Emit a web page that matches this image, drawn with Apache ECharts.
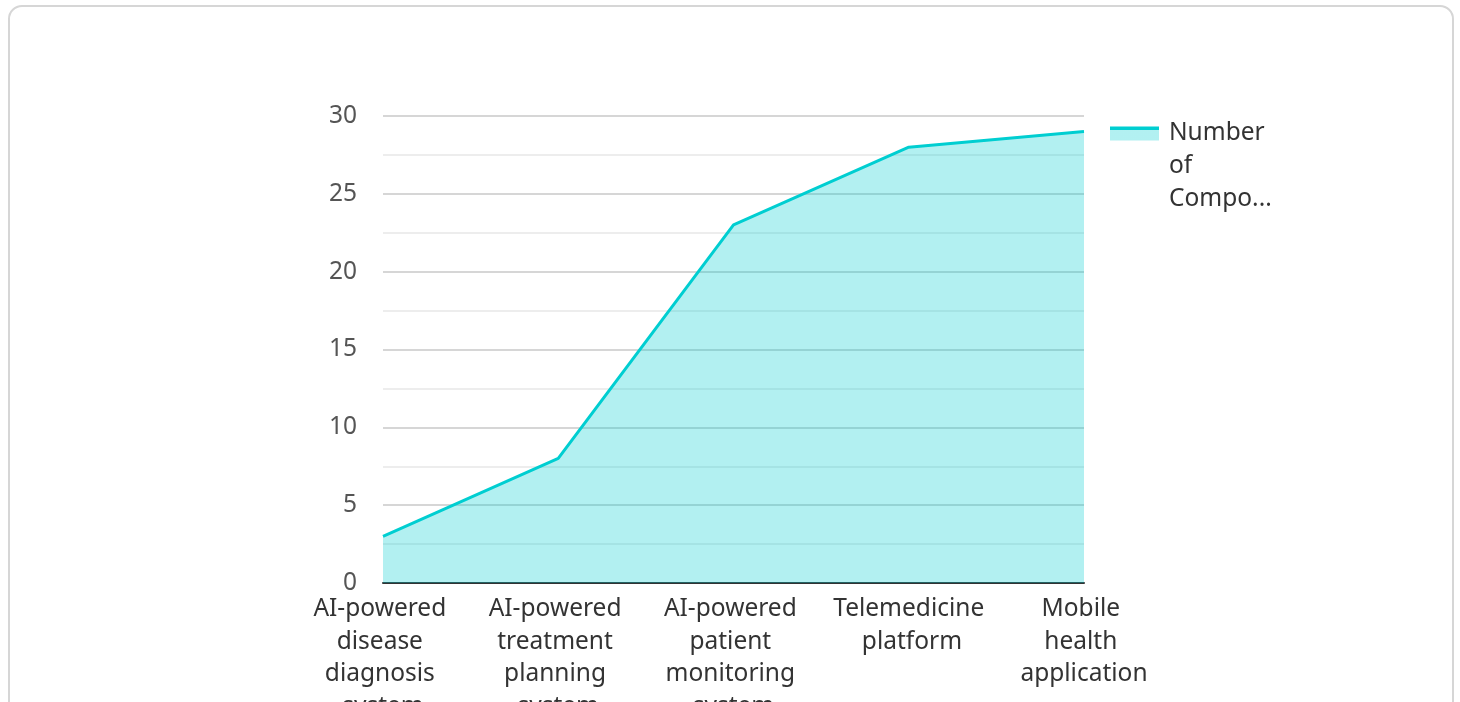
<!DOCTYPE html>
<html>
<head>
<meta charset="utf-8">
<script src="https://cdn.jsdelivr.net/npm/echarts@6/dist/echarts.min.js"></script>
<style>
  html, body { margin: 0; padding: 0; background: #fff; overflow: hidden; }
  #card {
    position: absolute; left: 8px; top: 5px; width: 1446px; height: 760px;
    border: 2px solid #d6d6d6; border-radius: 14px; box-sizing: border-box;
  }
  #main { position: absolute; left: 0; top: 0; width: 1460px; height: 702px; }
</style>
</head>
<body>
<div id="card"></div>
<div id="main"></div>
<script>
// data
var categories = [
  'AI-powered disease diagnosis system',
  'AI-powered treatment planning system',
  'AI-powered patient monitoring system',
  'Telemedicine platform',
  'Mobile health application'
];
var seriesName = 'Number of Components';
var values = [3, 8, 23, 28, 29];

var chart = echarts.init(document.getElementById('main'));

var option = {
  textStyle: { fontFamily: 'Noto Sans' },
  legend: {
    orient: 'vertical',
    left: 1105,
    top: 46,
    icon: 'rect',
    itemWidth: 49,
    itemHeight: 14,
    itemGap: 10,
    itemStyle: {
      color: new echarts.graphic.LinearGradient(0, 0, 0, 1, [
        { offset: 0, color: '#00CED1' },
        { offset: 0.22, color: '#00CED1' },
        { offset: 0.22, color: 'rgba(0,206,209,0.3)' },
        { offset: 1, color: 'rgba(0,206,209,0.3)' }
      ])
    },
    // first line sits beside the icon, the rest hang below it
    formatter: function (name) {
      return '\n\nNumber\nof\nCompo...';
    },
    textStyle: {
      fontSize: 24.5, lineHeight: 33, color: '#333', fontFamily: 'Noto Sans',
      padding: [0, 0, 0, 5]
    }
  },
  grid: { left: 383, top: 116, width: 701, height: 467, outerBoundsMode: 'none' },
  xAxis: {
    type: 'category',
    data: categories,
    boundaryGap: false,
    axisLine: { lineStyle: { color: '#333', width: 2 } },
    axisTick: { show: false },
    axisLabel: {
      interval: 0,
      fontSize: 24.5,
      lineHeight: 32.5,
      color: '#333',
      margin: 10,
      width: 154,
      overflow: 'break',
      fontFamily: 'Noto Sans'
    }
  },
  yAxis: {
    type: 'value',
    min: 0,
    max: 30,
    interval: 5,
    axisLine: { show: false },
    axisTick: { show: false },
    axisLabel: { fontSize: 24.5, color: '#555', margin: 26, fontFamily: 'Noto Sans' },
    splitLine: { lineStyle: { color: '#c8c8c8', width: 1.5 } },
    minorTick: { show: false, splitNumber: 2 },
    minorSplitLine: { show: true, lineStyle: { color: '#e8e8e8', width: 1.5 } }
  },
  series: [{
    name: seriesName,
    type: 'line',
    data: values,
    symbol: 'none',
    color: '#00CED1',
    lineStyle: { width: 3, color: '#00CED1' },
    areaStyle: { color: '#00CED1', opacity: 0.3 }
  }]
};

chart.setOption(option);
</script>
</body>
</html>
